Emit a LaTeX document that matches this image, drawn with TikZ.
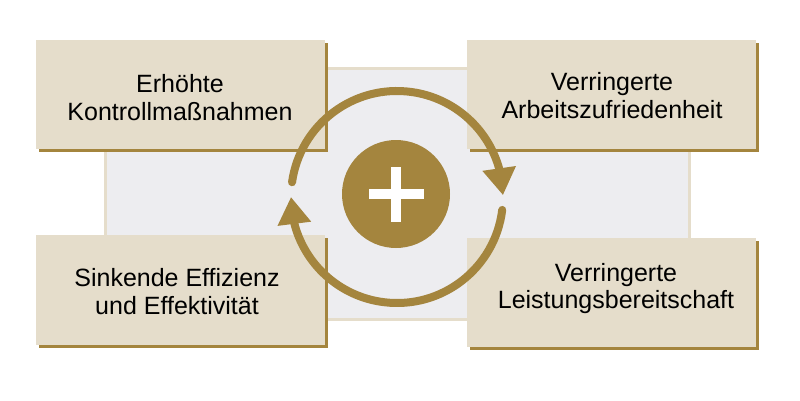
\documentclass[tikz,border=0pt]{standalone}
\usepackage{fontspec}
\setmainfont{Liberation Sans}
\usetikzlibrary{arrows.meta,bending,shadows}
\definecolor{gold}{RGB}{164,133,62}
\definecolor{sand}{RGB}{229,221,203}
\definecolor{mist}{RGB}{237,237,240}
\begin{document}
\begin{tikzpicture}[x=1pt,y=1pt,
  card/.style={rectangle, fill=sand, inner sep=0pt, anchor=south west, minimum width=289pt,
    drop shadow={shadow xshift=3pt, shadow yshift=-3pt, fill=gold, opacity=1}},
  cardtext/.style={inner sep=0pt, anchor=base, font=\fontsize{25}{27.5}\selectfont},
  ring/.style={draw=gold, line width=8pt, line cap=round, -{Triangle[flex, width=32pt,length=27pt]}}]
\useasboundingbox (0,0) rectangle (800,400);
\fill[white] (0,0) rectangle (800,400);
\draw[fill=mist, draw=sand, line width=3pt] (105,81) rectangle (689,332);
\node[card, minimum height=109pt] (b1) at (36,251) {};
\node[card, minimum height=109pt] (b2) at (467,251) {};
\node[card, minimum height=110pt] (b3) at (36,55) {};
\node[card, minimum height=109pt] (b4) at (467,53) {};
\node[cardtext] (t1) at (180,307.2) {\begin{tabular}[t]{@{}c@{}}Erhöhte\\Kontrollmaßnahmen\end{tabular}};
\node[cardtext] (t2) at (612,309.5) {\begin{tabular}[t]{@{}c@{}}Verringerte\\Arbeitszufriedenheit\end{tabular}};
\node[cardtext] (t3) at (177,113.1) {\begin{tabular}[t]{@{}c@{}}Sinkende Effizienz\\und Effektivität\end{tabular}};
\node[cardtext] (t4) at (616,119) {\begin{tabular}[t]{@{}c@{}}Verringerte\\Leistungsbereitschaft\end{tabular}};
\coordinate (c) at (397,203);
\draw[ring] ([shift={(172:106)}]c) arc[start angle=172, end angle=1, radius=106];
\draw[ring] ([shift={(-7:106)}]c) arc[start angle=-7, end angle=-180, radius=106];
\node[circle, fill=gold, minimum size=108pt, inner sep=0pt] (plus) at (396,206) {};
\fill[white] ([shift={(-27.5,-5.25)}]plus.center) rectangle +(55,10.5);
\fill[white] ([shift={(-5.3,-27.5)}]plus.center) rectangle +(10.6,55);
\end{tikzpicture}
\end{document}
